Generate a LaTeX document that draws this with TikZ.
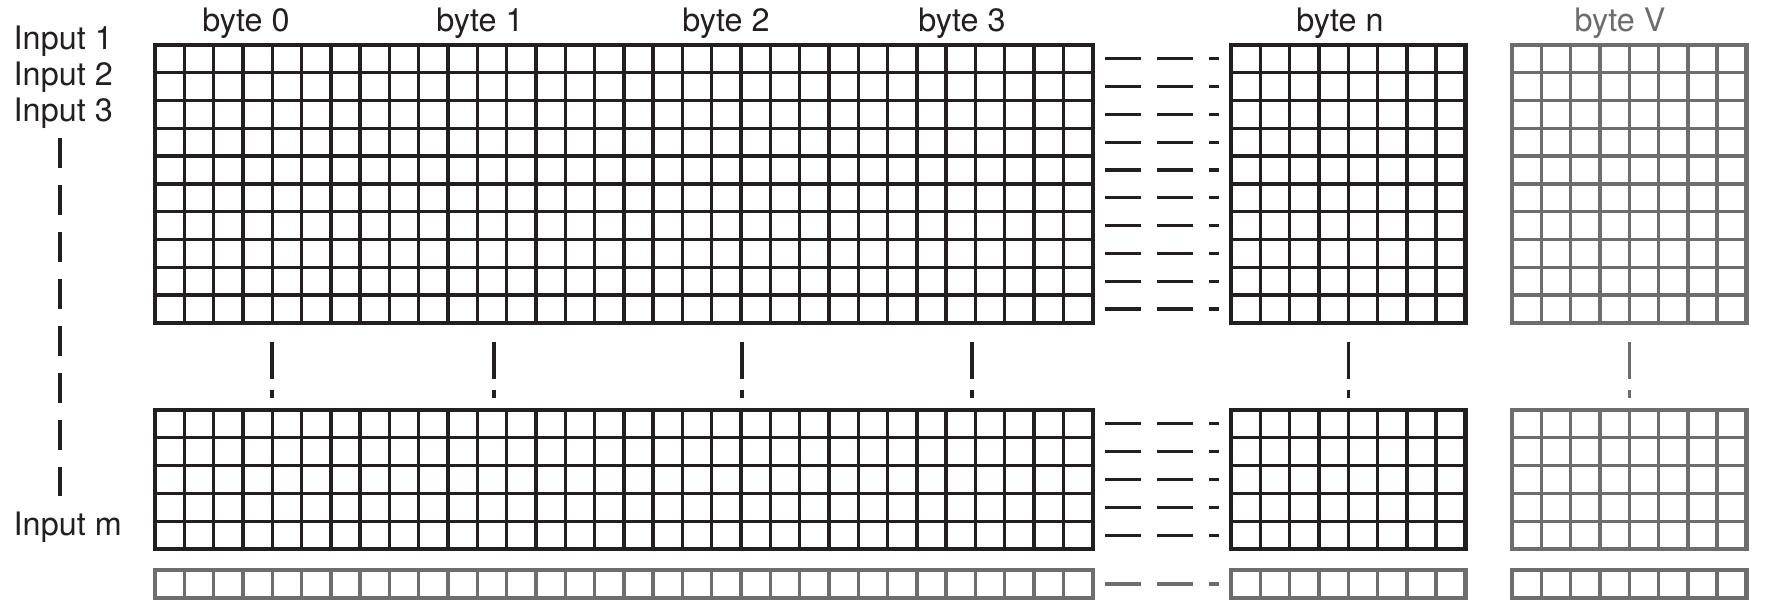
\documentclass[tikz,border=0pt]{standalone}
\usepackage{fontspec}
\setmainfont{TeX Gyre Heros}
\usepackage{tikz}
\usetikzlibrary{calc}

\definecolor{ink}{HTML}{231F20}
\definecolor{ashgray}{HTML}{6D6D6D}

\tikzset{
  cellline/.style={line width=0.34mm},
  blockframe/.style={draw, line width=0.42mm, inner sep=0pt, outer sep=0pt, anchor=north west},
  gaprow/.style={line width=0.32mm, dash pattern=on 3.6mm off 1.6mm},
  gapcol/.style={line width=0.32mm, dash pattern=on 3.7mm off 1.1mm},
  gapside/.style={line width=0.32mm, dash pattern=on 3mm off 1.7mm},
  rowlabel/.style={anchor=base west, inner sep=0pt, text=ink, font=\fontsize{9.2}{11}\selectfont},
  bytelabel/.style={anchor=base, inner sep=0pt, text=ink, font=\fontsize{9.2}{11}\selectfont},
}

% name, left, top, columns, rows, colour
\newcommand{\bitblock}[6]{%
  \node[blockframe, draw=#6, minimum width=#4*2.93mm, minimum height=#5*2.78mm] (#1) at (#2,#3) {};
  \pgfmathtruncatemacro\lastcol{#4-1}
  \foreach \c in {1,...,\lastcol}
    \draw[cellline, #6] ($(#1.north west)+(\c*29.3,0)$) -- ($(#1.south west)+(\c*29.3,0)$);
  \ifnum#5>1
    \pgfmathtruncatemacro\lastrow{#5-1}
    \foreach \r in {1,...,\lastrow}
      \draw[cellline, #6] ($(#1.north west)+(0,\r*27.8)$) -- ($(#1.north east)+(0,\r*27.8)$);
  \fi
}

\begin{document}
\begin{tikzpicture}[x=0.1mm,y=-0.1mm]
  \useasboundingbox (0,0) rectangle (1772,615);

  \bitblock{toprow}{155}{45}{32}{10}{ink}
  \bitblock{topn}{1231}{45}{8}{10}{ink}
  \bitblock{topV}{1512}{45}{8}{10}{ashgray}
  \bitblock{botrow}{155}{410}{32}{5}{ink}
  \bitblock{botn}{1231}{410}{8}{5}{ink}
  \bitblock{botV}{1512}{410}{8}{5}{ashgray}
  \bitblock{lastrow}{155}{570}{32}{1}{ashgray}
  \bitblock{lastn}{1231}{570}{8}{1}{ashgray}
  \bitblock{lastV}{1512}{570}{8}{1}{ashgray}

  \node[bytelabel] (byte0) at (246,32) {byte 0};
  \node[bytelabel] (byte1) at (480,32) {byte 1};
  \node[bytelabel] (byte2) at (726,32) {byte 2};
  \node[bytelabel] (byte3) at (962,32) {byte 3};
  \node[bytelabel] (byten) at (1340,32) {byte n};
  \node[bytelabel, text=ashgray] (byteV) at (1620,32) {byte V};

  \node[rowlabel] (in1) at (13,50) {Input 1};
  \node[rowlabel] (in2) at (13,86) {Input 2};
  \node[rowlabel] (in3) at (13,122) {Input 3};
  \node[rowlabel] (inm) at (13,535) {Input m};

  \draw[gapside, ink] ($(in3.south west)+(47,8)$) -- ($(inm.north west)+(47,-15)$);

  \foreach \r in {1,...,10}
    \draw[gaprow, ink] ($(toprow.north east)+(12.4,\r*27.8-13.9)$) -- ($(topn.north west)+(-12,\r*27.8-13.9)$);
  \foreach \r in {1,...,5}
    \draw[gaprow, ink] ($(botrow.north east)+(12.4,\r*27.8-13.9)$) -- ($(botn.north west)+(-12,\r*27.8-13.9)$);
  \draw[gaprow, ashgray] ($(lastrow.east)+(12.4,0)$) -- ($(lastn.west)+(-12,0)$);

  \foreach \dx in {117,339,587,817}
    \draw[gapcol, ink] ($(toprow.south west)+(\dx,19)$) -- ($(botrow.north west)+(\dx,-12)$);
  \draw[gapcol, ink] ($(topn.south)+(0,19)$) -- ($(botn.north)+(0,-12)$);
  \draw[gapcol, ashgray] ($(topV.south)+(0,19)$) -- ($(botV.north)+(0,-12)$);
\end{tikzpicture}
\end{document}
